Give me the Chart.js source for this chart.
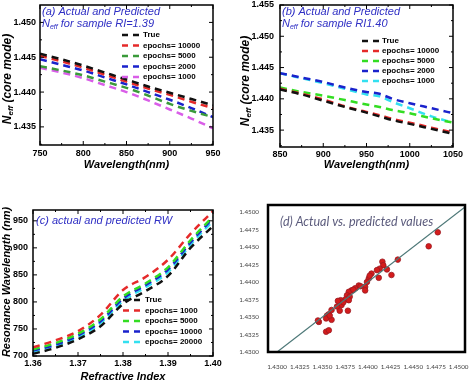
<!DOCTYPE html>
<html>
<head>
<meta charset="utf-8">
<script src="https://cdn.jsdelivr.net/npm/chart.js@4.4.1/dist/chart.umd.min.js"></script>
<style>
body { margin:0; background:#fff; width:474px; height:389px; overflow:hidden; position:relative; }
canvas { position:absolute; }
</style>
</head>
<body>
<canvas id="cA" width="237" height="195" style="left:0;top:0"></canvas>
<canvas id="cB" width="237" height="195" style="left:237px;top:0"></canvas>
<canvas id="cC" width="237" height="194" style="left:0;top:195px"></canvas>
<canvas id="cD" width="237" height="194" style="left:237px;top:195px"></canvas>
<script>
// (a) Neff for RI=1.39
const wlA = [750, 775, 800, 825, 850, 875, 900, 925, 950];
const trueA = [1.4455, 1.4447, 1.4438, 1.4428, 1.4418, 1.4408, 1.4399, 1.4390, 1.4381];
const ep10000A = [1.4452, 1.4444, 1.4435, 1.4425, 1.4415, 1.4405, 1.4396, 1.4386, 1.4377];
const ep5000A = [1.4437, 1.4431, 1.4424, 1.4415, 1.4406, 1.4395, 1.4383, 1.4373, 1.4364];
const ep2000A = [1.4447, 1.4439, 1.4431, 1.4421, 1.4411, 1.4400, 1.4389, 1.4377, 1.4364];
const ep1000A = [1.4435, 1.4428, 1.4420, 1.4410, 1.4400, 1.4388, 1.4375, 1.4362, 1.4348];
const yTicksA = [1.435, 1.440, 1.445, 1.450];
const xTicksA = [750, 800, 850, 900, 950];

// (b) Neff for RI=1.40
const wlB = [850, 875, 900, 925, 950, 965, 980, 1000, 1025, 1050];
const trueB = [1.4415, 1.4407, 1.4397, 1.4387, 1.4378, 1.4372, 1.4366, 1.4360, 1.4352, 1.4344];
const ep10000B = [1.4416, 1.4408, 1.4399, 1.4388, 1.4379, 1.4374, 1.4368, 1.4362, 1.4354, 1.4346];
const ep5000B = [1.4418, 1.4411, 1.4405, 1.4398, 1.4391, 1.4387, 1.4382, 1.4377, 1.4369, 1.4362];
const ep2000B = [1.4441, 1.4434, 1.4427, 1.4418, 1.4411, 1.4408, 1.4400, 1.4393, 1.4385, 1.4377];
const ep1000B = [1.4441, 1.4433, 1.4425, 1.4416, 1.4407, 1.4404, 1.4395, 1.4385, 1.4372, 1.4362];
const yTicksB = [1.435, 1.440, 1.445, 1.450, 1.455];
const xTicksB = [850, 900, 950, 1000, 1050];

// (c) resonance wavelength vs RI
const riC = [1.36, 1.365, 1.37, 1.375, 1.38, 1.385, 1.39, 1.395, 1.40];
const trueC = [704, 715, 731, 755, 796, 820, 848, 900, 940];
const ep1000C = [716, 729, 746, 776, 822, 846, 878, 926, 968];
const ep5000C = [712, 724, 741, 768, 810, 834, 864, 914, 958];
const ep10000C = [710, 721, 738, 764, 806, 831, 860, 910, 955];
const ep20000C = [708, 719, 735, 761, 802, 827, 855, 906, 950];
const yTicksC = [700, 750, 800, 850, 900, 950];
const xTicksC = [1.36, 1.37, 1.38, 1.39, 1.40];

// (d) actual vs predicted
const actD = [1.4477, 1.4467, 1.4433, 1.4416, 1.4417, 1.4413, 1.4410, 1.4421, 1.4404, 1.4412,
  1.4426, 1.4401, 1.4402, 1.4399, 1.4397, 1.4397, 1.4390, 1.4386, 1.4382, 1.4379,
  1.4377, 1.4380, 1.4375, 1.4370, 1.4367, 1.4379, 1.4371, 1.4369, 1.4378, 1.4366,
  1.4360, 1.4357, 1.4355, 1.4354, 1.4360, 1.4346, 1.4345, 1.4354, 1.4357, 1.4358,
  1.4392, 1.4384, 1.4373];
const predD = [1.4471, 1.4451, 1.4432, 1.4429, 1.4424, 1.4419, 1.4417, 1.4418, 1.4412, 1.4406,
  1.4410, 1.4405, 1.4409, 1.4400, 1.4393, 1.4388, 1.4395, 1.4391, 1.4388, 1.4386,
  1.4381, 1.4379, 1.4375, 1.4374, 1.4373, 1.4374, 1.4367, 1.4359, 1.4359, 1.4365,
  1.4360, 1.4354, 1.4352, 1.4348, 1.4346, 1.4343, 1.4345, 1.4329, 1.4331, 1.4352,
  1.4394, 1.4389, 1.4371];
const diagD = [1.4300, 1.4510];
const ticksD = [1.4300, 1.4325, 1.4350, 1.4375, 1.4400, 1.4425, 1.4450, 1.4475, 1.4500];

const FF = "'Liberation Sans', Arial, sans-serif";

function pts(xs, ys) { return xs.map((x, i) => ({ x: x, y: ys[i] })); }

function dashed(label, xs, ys, color) {
  return {
    label: label, data: pts(xs, ys), borderColor: color, borderWidth: 2.5,
    borderDash: [7, 5], pointRadius: 0, tension: 0.3, cubicInterpolationMode: 'monotone', fill: false
  };
}

function rich(ctx, t) {
  ctx.save();
  ctx.translate(t.x, t.y);
  if (t.rot) ctx.rotate(t.rot);
  ctx.fillStyle = t.color || '#000';
  ctx.textBaseline = 'middle';
  let w = 0;
  t.parts.forEach(p => { ctx.font = p[1]; w += ctx.measureText(p[0]).width; });
  let x = t.align === 'center' ? -w / 2 : 0;
  t.parts.forEach(p => {
    ctx.font = p[1];
    ctx.fillText(p[0], x, p[2] || 0);
    x += ctx.measureText(p[0]).width;
  });
  ctx.restore();
}

function minors(ticks, min, max) {
  const s = ticks[1] - ticks[0];
  const out = [];
  [ticks[0] - s].concat(ticks).forEach(t => {
    const m = t + s / 2;
    if (m > min && m < max) out.push(m);
  });
  return out;
}

const deco = {
  id: 'deco',
  afterDraw(chart, args, o) {
    const ctx = chart.ctx, a = chart.chartArea;
    ctx.save();
    if (o.ticks) {
      const xs = chart.scales.x, ys = chart.scales.y;
      ctx.strokeStyle = '#000';
      ctx.lineWidth = 1;
      ctx.beginPath();
      const xt = xs.ticks.map(t => t.value), yt = ys.ticks.map(t => t.value);
      xt.forEach(v => { const p = xs.getPixelForValue(v); ctx.moveTo(p, a.bottom); ctx.lineTo(p, a.bottom - 4); ctx.moveTo(p, a.top); ctx.lineTo(p, a.top + 4); });
      minors(xt, xs.min, xs.max).forEach(v => { const p = xs.getPixelForValue(v); ctx.moveTo(p, a.bottom); ctx.lineTo(p, a.bottom - 2); ctx.moveTo(p, a.top); ctx.lineTo(p, a.top + 2); });
      yt.forEach(v => { const p = ys.getPixelForValue(v); ctx.moveTo(a.left, p); ctx.lineTo(a.left + 4, p); ctx.moveTo(a.right, p); ctx.lineTo(a.right - 4, p); });
      minors(yt, ys.min, ys.max).forEach(v => { const p = ys.getPixelForValue(v); ctx.moveTo(a.left, p); ctx.lineTo(a.left + 2, p); ctx.moveTo(a.right, p); ctx.lineTo(a.right - 2, p); });
      ctx.stroke();
    }
    ctx.strokeStyle = '#000';
    ctx.lineWidth = o.frame;
    ctx.strokeRect(a.left, a.top, a.right - a.left, a.bottom - a.top);
    if (o.legend) {
      const L = o.legend;
      chart.data.datasets.forEach((d, i) => {
        const y = L.y + i * L.dy;
        ctx.strokeStyle = d.borderColor;
        ctx.lineWidth = 2.5;
        ctx.setLineDash([6, 5]);
        ctx.beginPath();
        ctx.moveTo(L.x, y);
        ctx.lineTo(L.x + 18, y);
        ctx.stroke();
        ctx.setLineDash([]);
        ctx.fillStyle = '#000';
        ctx.font = 'bold 8px ' + FF;
        ctx.textBaseline = 'middle';
        ctx.fillText(d.label, L.tx, y);
      });
    }
    (o.texts || []).forEach(t => rich(ctx, t));
    ctx.restore();
  }
};

function axis(min, max, ticks, digits, size, pad, fixed, horiz, font, color) {
  return {
    type: 'linear', min: min, max: max,
    grid: { display: false, drawTicks: false },
    border: { display: false },
    afterBuildTicks: s => { s.ticks = ticks.map(v => ({ value: v })); },
    afterFit: s => {
      if (horiz) s.height = fixed; else s.width = fixed;
      s.paddingLeft = 0; s.paddingRight = 0; s.paddingTop = 0; s.paddingBottom = 0;
    },
    ticks: {
      autoSkip: false, maxRotation: 0, padding: pad, color: color || '#000',
      font: font || { family: FF, weight: 'bold', size: size },
      callback: v => Number(v).toFixed(digits)
    }
  };
}

function base(padding, x, y, deco_opts) {
  return {
    responsive: false, animation: false,
    layout: { padding: padding },
    scales: { x: x, y: y },
    plugins: { legend: { display: false }, tooltip: { enabled: false }, deco: deco_opts }
  };
}

const it = 'italic 11px ' + FF, itS = 'italic 7px ' + FF;
const bi = 'bold italic 12px ' + FF, biS = 'bold italic 8px ' + FF, bx = 'bold italic 11px ' + FF;
const blue = '#2f2fc4';

new Chart(document.getElementById('cA'), {
  type: 'line',
  data: { datasets: [
    dashed('True', wlA, trueA, '#111111'),
    dashed('epochs= 10000', wlA, ep10000A, '#e52a2a'),
    dashed('epochs= 5000', wlA, ep5000A, '#3a9a3a'),
    dashed('epochs= 2000', wlA, ep2000A, '#1a22cc'),
    dashed('epochs= 1000', wlA, ep1000A, '#d95ee8')
  ] },
  options: base({ left: 0, top: 5, right: 24, bottom: 0 },
    axis(750, 950, xTicksA, 0, 9, 3, 50, true),
    axis(1.4324, 1.4525, yTicksA, 3, 9, 4, 40, false),
    { frame: 1.5, ticks: true, legend: { x: 122, tx: 143, y: 35, dy: 10.5 },
      texts: [
        { x: 42, y: 12, color: blue, parts: [['(a) Actual and Predicted', it]] },
        { x: 42, y: 24, color: blue, parts: [['N', it], ['eff', itS, 3], [' for sample RI=1.39', it]] },
        { x: 126.5, y: 165, align: 'center', parts: [['Wavelength(nm)', bx]] },
        { x: 8, y: 79, rot: -Math.PI / 2, align: 'center', parts: [['N', bi], ['eff', biS, 3], [' (core mode)', bi]] }
      ] })
  ,
  plugins: [deco]
});

new Chart(document.getElementById('cB'), {
  type: 'line',
  data: { datasets: [
    dashed('True', wlB, trueB, '#111111'),
    dashed('epochs= 10000', wlB, ep10000B, '#e52a2a'),
    dashed('epochs= 5000', wlB, ep5000B, '#33dd22'),
    dashed('epochs= 2000', wlB, ep2000B, '#1a22cc'),
    dashed('epochs= 1000', wlB, ep1000B, '#33e0f0')
  ] },
  options: base({ left: 0, top: 5, right: 21, bottom: 0 },
    axis(850, 1050, xTicksB, 0, 9, 2, 48, true),
    axis(1.4323, 1.455, yTicksB, 3, 9, 6, 43, false),
    { frame: 1.5, ticks: true, legend: { x: 125, tx: 145, y: 41, dy: 10 },
      texts: [
        { x: 45, y: 12, color: blue, parts: [['(b) Actual and Predicted', it]] },
        { x: 45, y: 24, color: blue, parts: [['N', it], ['eff', itS, 3], [' for sample RI1.40', it]] },
        { x: 129.5, y: 165, align: 'center', parts: [['Wavelength(nm)', bx]] },
        { x: 9, y: 81, rot: -Math.PI / 2, align: 'center', parts: [['N', bi], ['eff', biS, 3], [' (core mode)', bi]] }
      ] }),
  plugins: [deco]
});

new Chart(document.getElementById('cC'), {
  type: 'line',
  data: { datasets: [
    dashed('True', riC, trueC, '#111111'),
    dashed('epochs= 1000', riC, ep1000C, '#e52a2a'),
    dashed('epochs= 5000', riC, ep5000C, '#33dd22'),
    dashed('epochs= 10000', riC, ep10000C, '#1a22cc'),
    dashed('epochs= 20000', riC, ep20000C, '#33e0f0')
  ] },
  options: base({ left: 0, top: 15, right: 24, bottom: 0 },
    axis(1.36, 1.40, xTicksC, 2, 9, 2, 33, true),
    axis(700, 970, yTicksC, 0, 9, 5, 33, false),
    { frame: 1.5, ticks: true, legend: { x: 123, tx: 145, y: 105, dy: 10.5 },
      texts: [
        { x: 36, y: 26, color: blue, parts: [['(c) actual and predicted RW', it]] },
        { x: 123, y: 182, align: 'center', parts: [['Refractive Index', bx]] },
        { x: 7, y: 87, rot: -Math.PI / 2, align: 'center', parts: [['Resonance Wavelength (nm)', bx]] }
      ] }),
  plugins: [deco]
});

const fD = { family: 'Lato, sans-serif', size: 6.3 };
new Chart(document.getElementById('cD'), {
  type: 'scatter',
  data: { datasets: [
    { type: 'line', data: pts(diagD, diagD), borderColor: '#4d7878', borderWidth: 1.2, pointRadius: 0 },
    { data: pts(actD, predD), backgroundColor: '#d41c1c', borderColor: '#9a1a22', borderWidth: 0.8, pointRadius: 2.8 }
  ] },
  options: base({ left: 0, top: 10, right: 9, bottom: 0 },
    axis(1.429, 1.4507, ticksD, 4, 6.3, 11, 37, true, fD, '#444'),
    axis(1.43, 1.451, ticksD, 4, 6.3, 9, 31, false, fD, '#444'),
    { frame: 2.5, ticks: false,
      texts: [
        { x: 43, y: 27, color: '#5b5b7c', parts: [['(d) Actual vs. predicted values', 'italic 12.5px Lato, sans-serif']] }
      ] }),
  plugins: [deco]
});
</script>
</body>
</html>
